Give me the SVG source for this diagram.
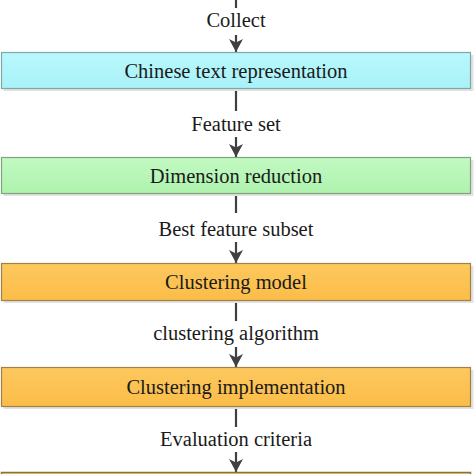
<svg xmlns="http://www.w3.org/2000/svg" width="474" height="474" viewBox="0 0 474 474">
<style>
.lbl{font-family:"Liberation Serif","Times New Roman",serif;font-size:20.5px;fill:#1a1a1a;text-anchor:middle}
.ln{stroke:#404040;stroke-width:2.2;fill:none}
.shadow{fill:#e2e2e2}
</style>
<defs>
<marker id="ah" markerWidth="14" markerHeight="14" refX="13" refY="7" orient="auto" markerUnits="userSpaceOnUse" viewBox="0 0 14 14">
<path d="M0,0 L13,7 L0,14 L3.5,7 Z" fill="#404040"/>
</marker>
<linearGradient id="gc" x1="0" y1="0" x2="0" y2="1"><stop offset="0" stop-color="#b8f8fc"/><stop offset="1" stop-color="#a8f2f8"/></linearGradient>
<linearGradient id="gg" x1="0" y1="0" x2="0" y2="1"><stop offset="0" stop-color="#c2f9c2"/><stop offset="1" stop-color="#aef3ae"/></linearGradient>
<linearGradient id="go" x1="0" y1="0" x2="0" y2="1"><stop offset="0" stop-color="#fcc85e"/><stop offset="1" stop-color="#fcbd48"/></linearGradient>
</defs>
<rect width="474" height="474" fill="#ffffff"/>
<g id="connectors">
<path class="ln" d="M236,0 V8"/>
<path class="ln" d="M236,35 V52" marker-end="url(#ah)"/>
<path class="ln" d="M236,90 V111"/>
<path class="ln" d="M236,137 V157" marker-end="url(#ah)"/>
<path class="ln" d="M236,194 V213"/>
<path class="ln" d="M236,242 V263" marker-end="url(#ah)"/>
<path class="ln" d="M236,301 V321"/>
<path class="ln" d="M236,347 V367" marker-end="url(#ah)"/>
<path class="ln" d="M236,407 V427"/>
<path class="ln" d="M236,452 V472" marker-end="url(#ah)"/>
<text class="lbl" x="236" y="27">Collect</text>
<text class="lbl" x="236" y="131">Feature set</text>
<text class="lbl" x="236" y="236">Best feature subset</text>
<text class="lbl" x="236" y="340">clustering algorithm</text>
<text class="lbl" x="236" y="446">Evaluation criteria</text>
</g>
<g id="n1">
<rect class="shadow" x="3.5" y="55" width="470" height="36"/>
<rect x="1.5" y="52.5" width="469" height="36" fill="url(#gc)" stroke="#7fa6a8" stroke-width="1.2"/>
<text class="lbl" x="236" y="78">Chinese text representation</text>
</g>
<g id="n2">
<rect class="shadow" x="3.5" y="160" width="470" height="36"/>
<rect x="1.5" y="157.5" width="469" height="36" fill="url(#gg)" stroke="#7fa27f" stroke-width="1.2"/>
<text class="lbl" x="236" y="183">Dimension reduction</text>
</g>
<g id="n3">
<rect class="shadow" x="3.5" y="266" width="470" height="37"/>
<rect x="1.5" y="263.5" width="469" height="37" fill="url(#go)" stroke="#a08248" stroke-width="1.2"/>
<text class="lbl" x="236" y="289">Clustering model</text>
</g>
<g id="n4">
<rect class="shadow" x="3.5" y="370" width="470" height="39"/>
<rect x="1.5" y="367.5" width="469" height="39" fill="url(#go)" stroke="#a08248" stroke-width="1.2"/>
<text class="lbl" x="236" y="394">Clustering implementation</text>
</g>
<g id="n5">
<rect x="1.5" y="472.5" width="469" height="10" fill="#fcc85e" stroke="#857448" stroke-width="1.5"/>
</g>
</svg>
